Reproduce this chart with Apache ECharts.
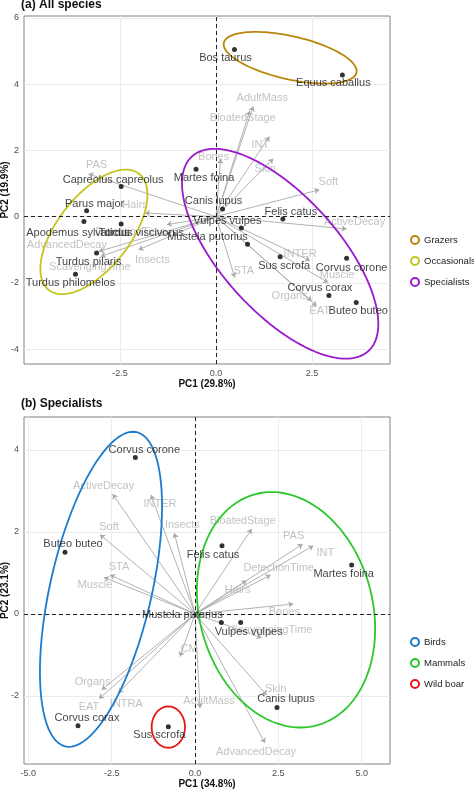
<!DOCTYPE html>
<html>
<head>
<meta charset="utf-8">
<script src="https://cdn.jsdelivr.net/npm/echarts@6/dist/echarts.min.js"></script>
<style>
html,body{margin:0;padding:0;background:#fff}
#chart{width:474px;height:790px}
</style>
</head>
<body>
<div id="chart"></div>
<script>
// ---- (a) All species : species scores
var speciesA = ['Bos taurus','Equus caballus','Capreolus capreolus','Martes foina','Parus major',
  'Apodemus sylvaticus','Turdus viscivorus','Turdus pilaris','Turdus philomelos','Canis lupus',
  'Vulpes vulpes','Mustela putorius','Felis catus','Sus scrofa','Corvus corone','Corvus corax','Buteo buteo'];
var pc1A = [0.48, 3.29, -2.47, -0.52, -3.37, -3.44, -2.47, -3.11, -3.66, 0.17, 0.66, 0.82, 1.74, 1.67, 3.40, 2.94, 3.65];
var pc2A = [5.05, 4.28, 0.91, 1.43, 0.18, -0.15, -0.22, -1.10, -1.74, 0.23, -0.34, -0.83, -0.07, -1.21, -1.26, -2.38, -2.59];

// ---- (a) variable loadings
var varsA = ['AdultMass','BloatedStage','INT','Skin','Bones','Soft','ActiveDecay','INTER','Muscle',
  'Organs','EAT','STA','Insects','Hairs','PAS','DetectionTime','AdvancedDecay','ScavengingTime'];
var varPc1A = [0.97, 0.88, 1.39, 1.49, 0.12, 2.69, 3.40, 2.45, 2.92, 2.49, 2.62, 0.49, -2.02, -1.85, -3.32, -1.28, -3.05, -3.00];
var varPc2A = [3.33, 3.20, 2.42, 1.75, 1.75, 0.81, -0.37, -1.33, -1.99, -2.55, -2.70, -1.84, -1.00, 0.11, 1.29, -0.24, -1.05, -1.20];

// ---- (b) Specialists : species scores
var speciesB = ['Corvus corone','Buteo buteo','Felis catus','Martes foina','Mustela putorius',
  'Vulpes vulpes','Canis lupus','Corvus corax','Sus scrofa'];
var pc1B = [-1.79, -3.90, 0.81, 4.70, 0.79, 1.37, 2.46, -3.51, -0.80];
var pc2B = [3.81, 1.50, 1.66, 1.19, -0.21, -0.21, -2.28, -2.73, -2.75];

// ---- (b) variable loadings
var varsB = ['ActiveDecay','INTER','Insects','Soft','STA','Muscle','BloatedStage','PAS','INT',
  'DetectionTime','Hairs','Bones','ScavengingTime','CM','Organs','EAT','INTRA','AdultMass','Skin','AdvancedDecay'];
var varPc1B = [-2.47, -1.32, -0.62, -2.85, -2.55, -2.73, 1.70, 3.23, 3.55, 2.27, 1.55, 2.95, 2.00, -0.45, -2.80, -2.88, -2.30, 0.15, 2.15, 2.10];
var varPc2B = [2.92, 2.90, 1.97, 1.93, 0.95, 0.89, 2.07, 1.70, 1.66, 0.95, 0.81, 0.24, -0.58, -1.04, -1.85, -2.07, -1.93, -2.30, -1.98, -3.15];

// groups and their ellipses: [cx, cy, ux, uy, vx, vy] (conjugate semi-axes)
var groupsA = ['Grazers','Occasionals','Specialists'];
var ellA = [[1.93, 4.80, -0.90, 0.78, 1.48, 0], [-3.18, -0.46, 0.83, 1.88, 1.12, 0], [1.67, -1.12, -1.71, 3.17, 1.90, 0]];
var groupsB = ['Birds','Mammals','Wild boar'];
var ellB = [[-2.82, 0.60, 0.96, 3.84, 1.56, 0], [2.73, 0.10, -0.43, 2.87, 2.64, 0], [-0.80, -2.76, 0, 0.505, 0.50, 0]];

var colA = ['#B8860B','#C4C41C','#9A1BCB'];
var colB = ['#1C7BCB','#2DC72D','#E31A1C'];

// label shifts in px (layout only)
var shiftSpA = {'Bos taurus':[-9,9],'Equus caballus':[-9,8],'Capreolus capreolus':[-8,-7],'Martes foina':[8,9],
  'Parus major':[8,-7],'Apodemus sylvaticus':[-6,11],'Turdus viscivorus':[20,9],'Turdus pilaris':[-8,9],
  'Turdus philomelos':[-5,9],'Canis lupus':[-9,-8],'Vulpes vulpes':[-14,-7],'Mustela putorius':[-40,-7],
  'Felis catus':[8,-7],'Sus scrofa':[4,9],'Corvus corone':[5,10],'Corvus corax':[-9,-7],'Buteo buteo':[2,9]};
var shiftVarA = {'AdultMass':[9,-8],'BloatedStage':[-7,7],'INT':[-9,8],'Skin':[-8,10],'Bones':[-7,-2],'Soft':[9,-8],
  'ActiveDecay':[8,-7],'INTER':[-10,-7],'Muscle':[9,-8],'Organs':[-22,-5],'EAT':[3,5],'STA':[9,-7],'Insects':[14,10],
  'Hairs':[-10,-8],'PAS':[8,-9],'DetectionTime':[-36,7],'AdvancedDecay':[-32,-6],'ScavengingTime':[-11,11]};
var shiftSpB = {'Corvus corone':[9,-8],'Buteo buteo':[8,-8],'Felis catus':[-9,9],'Martes foina':[-8,9],
  'Mustela putorius':[-39,-8],'Vulpes vulpes':[8,9],'Canis lupus':[9,-8],'Corvus corax':[9,-8],'Sus scrofa':[-9,8]};
var shiftVarB = {'ActiveDecay':[-9,-8],'INTER':[9,9],'Insects':[8,-8],'Soft':[9,-8],'STA':[9,-8],'Muscle':[-9,8],
  'BloatedStage':[-9,-8],'PAS':[-9,-8],'INT':[12,7],'DetectionTime':[8,-7],'Hairs':[-9,9],'Bones':[-9,8],
  'ScavengingTime':[10,-8],'CM':[9,-8],'Organs':[-9,-8],'EAT':[-10,8],'INTRA':[8,11],'AdultMass':[9,-7],
  'Skin':[9,-6],'AdvancedDecay':[-9,9]};

var FONT = 'Liberation Sans, Arial, sans-serif';
var myChart = echarts.init(document.getElementById('chart'));

function ellipse(p){
  var pts = [];
  for (var k = 0; k <= 120; k++) {
    var t = 2 * Math.PI * k / 120;
    pts.push([p[0] + p[2]*Math.cos(t) + p[4]*Math.sin(t), p[1] + p[3]*Math.cos(t) + p[5]*Math.sin(t)]);
  }
  return pts;
}
function pointData(names, xs, ys, shift){
  return names.map(function(n, i){
    return {name: n, value: [xs[i], ys[i]], label: {offset: shift[n] || [0,0]}};
  });
}
function arrowData(xs, ys){
  return xs.map(function(x, i){ return {coords: [[0,0],[x, ys[i]]]}; });
}

function panelSeries(k, sp, xs, ys, vars, vx, vy, shSp, shVar, groups, ells, cols){
  var out = [];
  // arrows + zero lines
  out.push({
    type: 'lines', coordinateSystem: 'cartesian2d', xAxisIndex: k, yAxisIndex: k, z: 2,
    symbol: ['none','arrow'], symbolSize: 5, silent: true,
    lineStyle: {color: '#a9a9a9', width: 0.9, opacity: 1},
    data: arrowData(vx, vy),
    markLine: {silent: true, symbol: 'none', label: {show: false},
      lineStyle: {color: '#222', type: [4,3], width: 1},
      data: [{xAxis: 0}, {yAxis: 0}]}
  });
  // variable labels
  out.push({
    type: 'scatter', xAxisIndex: k, yAxisIndex: k, z: 3, symbolSize: 1, silent: true,
    itemStyle: {color: 'transparent'},
    label: {show: true, position: 'inside', formatter: '{b}', color: '#b3b3b3', fontSize: 11, fontFamily: FONT},
    data: pointData(vars, vx, vy, shVar)
  });
  // ellipses
  groups.forEach(function(g, i){
    out.push({
      name: g, type: 'line', xAxisIndex: k, yAxisIndex: k, z: 4, showSymbol: false, silent: true,
      lineStyle: {color: cols[i], width: 1.8}, itemStyle: {color: cols[i]},
      data: ellipse(ells[i])
    });
  });
  // species
  out.push({
    type: 'scatter', xAxisIndex: k, yAxisIndex: k, z: 5, symbolSize: 5, silent: true,
    itemStyle: {color: '#000'},
    label: {show: true, position: 'inside', formatter: '{b}', color: '#111', fontSize: 11, fontFamily: FONT},
    data: pointData(sp, xs, ys, shSp)
  });
  return out;
}

function xAxisCfg(k, min, max, ticks, name){
  return {
    type: 'value', gridIndex: k, min: min, max: max,
    axisLine: {show: false}, axisTick: {show: false, customValues: ticks},
    axisLabel: {customValues: ticks, fontSize: 9, color: '#4d4d4d', margin: 5, fontFamily: FONT,
      formatter: function(v){ return v.toFixed(1); }},
    splitLine: {show: true, lineStyle: {color: '#ebebeb', width: 1}},
    name: name, nameLocation: 'middle', nameGap: 15, nameMoveOverlap: false,
    nameTextStyle: {fontSize: 10, fontWeight: 'bold', color: '#111', fontFamily: FONT}
  };
}
function yAxisCfg(k, min, max, ticks, name){
  return {
    type: 'value', gridIndex: k, min: min, max: max,
    axisLine: {show: false}, axisTick: {show: false, customValues: ticks},
    axisLabel: {customValues: ticks, fontSize: 9, color: '#4d4d4d', margin: 5, fontFamily: FONT},
    splitLine: {show: true, lineStyle: {color: '#ebebeb', width: 1}},
    name: name, nameLocation: 'middle', nameGap: 14, nameRotate: 90, nameMoveOverlap: false,
    nameTextStyle: {fontSize: 10, fontWeight: 'bold', color: '#111', fontFamily: FONT}
  };
}
function legendCfg(top, groups, cols){
  return {
    orient: 'vertical', left: 410, top: top, itemWidth: 8, itemHeight: 8, itemGap: 9,
    selectedMode: false, padding: 0,
    textStyle: {fontSize: 9.5, color: '#222', lineHeight: 12, fontFamily: FONT},
    data: groups.map(function(g, i){
      return {name: g, icon: 'circle', itemStyle: {color: '#fff', borderColor: cols[i], borderWidth: 2}};
    })
  };
}

var option = {
  backgroundColor: '#fff',
  animation: false,
  title: [
    {text: '(a) All species', left: 21, top: -1, padding: 0,
      textStyle: {fontSize: 12, fontWeight: 'bold', color: '#111', fontFamily: FONT}},
    {text: '(b) Specialists', left: 21, top: 398, padding: 0,
      textStyle: {fontSize: 12, fontWeight: 'bold', color: '#111', fontFamily: FONT}}
  ],
  grid: [
    {left: 24, top: 16, width: 366, height: 348, show: true, borderColor: '#808080', borderWidth: 1,
      backgroundColor: 'transparent', containLabel: false, outerBoundsMode: 'none'},
    {left: 24, top: 417, width: 366, height: 347, show: true, borderColor: '#808080', borderWidth: 1,
      backgroundColor: 'transparent', containLabel: false, outerBoundsMode: 'none'}
  ],
  xAxis: [
    xAxisCfg(0, -5.0, 4.53, [-2.5, 0, 2.5], 'PC1 (29.8%)'),
    xAxisCfg(1, -5.13, 5.85, [-5, -2.5, 0, 2.5, 5], 'PC1 (34.8%)')
  ],
  yAxis: [
    yAxisCfg(0, -4.45, 6.06, [-4, -2, 0, 2, 4, 6], 'PC2 (19.9%)'),
    yAxisCfg(1, -3.66, 4.80, [-2, 0, 2, 4], 'PC2 (23.1%)')
  ],
  legend: [legendCfg(234, groupsA, colA), legendCfg(636, groupsB, colB)],
  series: [].concat(
    panelSeries(0, speciesA, pc1A, pc2A, varsA, varPc1A, varPc2A, shiftSpA, shiftVarA, groupsA, ellA, colA),
    panelSeries(1, speciesB, pc1B, pc2B, varsB, varPc1B, varPc2B, shiftSpB, shiftVarB, groupsB, ellB, colB)
  )
};
myChart.setOption(option);
</script>
</body>
</html>
